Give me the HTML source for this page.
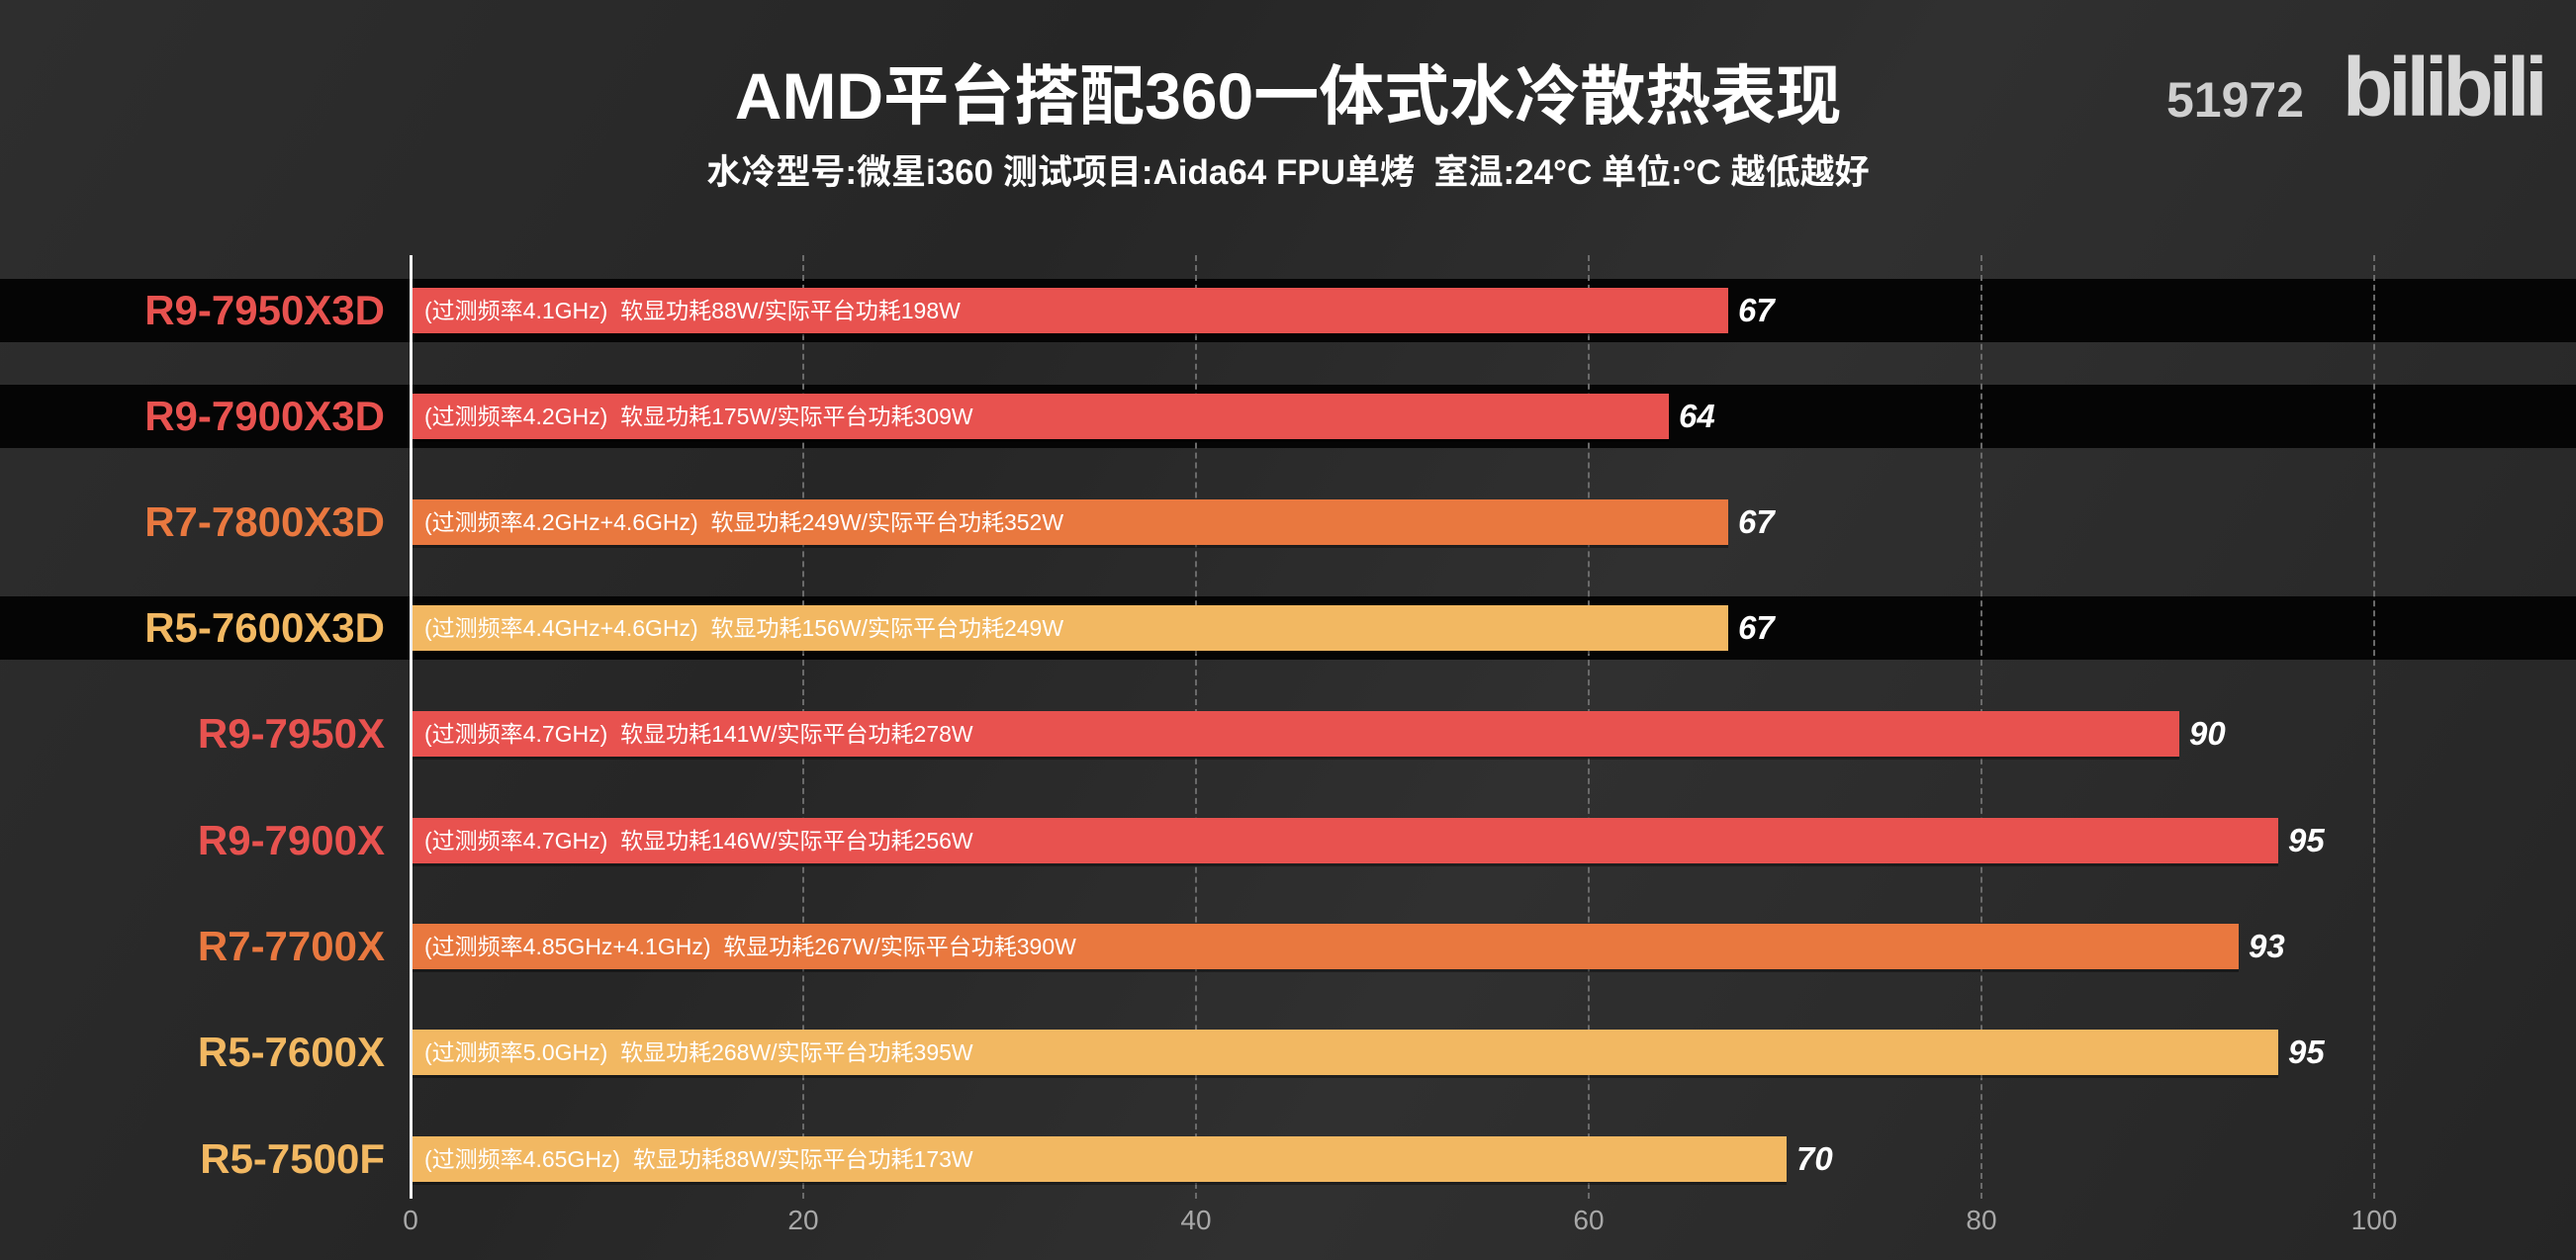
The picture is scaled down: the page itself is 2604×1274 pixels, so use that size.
<!DOCTYPE html>
<html><head><meta charset="utf-8"><style>
body{margin:0;width:2604px;height:1274px;overflow:hidden;background:#2b2b2b;font-family:"Liberation Sans","Noto Sans CJK SC",sans-serif;position:relative}
.bg{position:absolute;inset:0;background:linear-gradient(120deg,#2e2e2e 0%,#262626 35%,#303030 60%,#252525 100%)}
.band{position:absolute;left:0;width:2604px;height:64px;background:#050505}
.grid{position:absolute;top:258px;height:954px;border-left:2px dashed #6a6a6a}
.axis{position:absolute;left:414px;top:258px;width:3px;height:954px;background:#f0f0f0}
.lab{position:absolute;right:2215px;font-size:42px;font-weight:bold;height:46px;line-height:46px;white-space:nowrap}
.bar{position:absolute;left:417px;height:46px;line-height:46px;color:#fff;font-size:23px;padding-left:12px;box-sizing:border-box;white-space:nowrap;box-shadow:0 3px 0 rgba(0,0,0,.35)}
.val{position:absolute;color:#fff;font-size:33px;font-style:italic;font-weight:bold;height:46px;line-height:46px}
.tick{position:absolute;top:1218px;color:#a8a8a8;font-size:28px;width:80px;margin-left:-40px;text-align:center}
.r{color:#e8524f}.o{color:#e9783f}.y{color:#f2b862}
.br{background:#e8524f}.bo{background:#e9783f}.by{background:#f2b862}
</style></head><body>
<div class="bg"></div>
<div style="position:absolute;left:0;width:2604px;top:44px;text-align:center;color:#fff;font-size:66px;font-weight:bold">AMD平台搭配360一体式水冷散热表现</div>
<div style="position:absolute;left:0;width:2604px;top:146px;text-align:center;color:#fff;font-size:35px;font-weight:bold">水冷型号:微星i360 测试项目:Aida64 FPU单烤&nbsp; 室温:24°C 单位:°C 越低越好</div>
<div style="position:absolute;left:2190px;top:72px;color:#cfcfcf;font-size:50px;font-weight:bold">51972</div>
<div style="position:absolute;left:2368px;top:40px;color:#d8d8d8;font-size:84px;font-weight:bold;letter-spacing:-5px">bilibili</div>

<div class="band" style="top:282px"></div>
<div class="band" style="top:389px"></div>
<div class="band" style="top:603px"></div>

<div class="grid" style="left:811px"></div>
<div class="grid" style="left:1208px"></div>
<div class="grid" style="left:1605px"></div>
<div class="grid" style="left:2002px"></div>
<div class="grid" style="left:2399px"></div>
<div class="axis"></div>

<div class="lab r" style="top:291px">R9-7950X3D</div>
<div class="bar br" style="top:291px;width:1330px">(过测频率4.1GHz)&nbsp; 软显功耗88W/实际平台功耗198W</div>
<div class="val" style="top:291px;left:1757px">67</div>

<div class="lab r" style="top:398px">R9-7900X3D</div>
<div class="bar br" style="top:398px;width:1270px">(过测频率4.2GHz)&nbsp; 软显功耗175W/实际平台功耗309W</div>
<div class="val" style="top:398px;left:1697px">64</div>

<div class="lab o" style="top:505px">R7-7800X3D</div>
<div class="bar bo" style="top:505px;width:1330px">(过测频率4.2GHz+4.6GHz)&nbsp; 软显功耗249W/实际平台功耗352W</div>
<div class="val" style="top:505px;left:1757px">67</div>

<div class="lab y" style="top:612px">R5-7600X3D</div>
<div class="bar by" style="top:612px;width:1330px">(过测频率4.4GHz+4.6GHz)&nbsp; 软显功耗156W/实际平台功耗249W</div>
<div class="val" style="top:612px;left:1757px">67</div>

<div class="lab r" style="top:719px">R9-7950X</div>
<div class="bar br" style="top:719px;width:1786px">(过测频率4.7GHz)&nbsp; 软显功耗141W/实际平台功耗278W</div>
<div class="val" style="top:719px;left:2213px">90</div>

<div class="lab r" style="top:827px">R9-7900X</div>
<div class="bar br" style="top:827px;width:1886px">(过测频率4.7GHz)&nbsp; 软显功耗146W/实际平台功耗256W</div>
<div class="val" style="top:827px;left:2313px">95</div>

<div class="lab o" style="top:934px">R7-7700X</div>
<div class="bar bo" style="top:934px;width:1846px">(过测频率4.85GHz+4.1GHz)&nbsp; 软显功耗267W/实际平台功耗390W</div>
<div class="val" style="top:934px;left:2273px">93</div>

<div class="lab y" style="top:1041px">R5-7600X</div>
<div class="bar by" style="top:1041px;width:1886px">(过测频率5.0GHz)&nbsp; 软显功耗268W/实际平台功耗395W</div>
<div class="val" style="top:1041px;left:2313px">95</div>

<div class="lab y" style="top:1149px">R5-7500F</div>
<div class="bar by" style="top:1149px;width:1389px">(过测频率4.65GHz)&nbsp; 软显功耗88W/实际平台功耗173W</div>
<div class="val" style="top:1149px;left:1816px">70</div>

<div class="tick" style="left:415px">0</div>
<div class="tick" style="left:812px">20</div>
<div class="tick" style="left:1209px">40</div>
<div class="tick" style="left:1606px">60</div>
<div class="tick" style="left:2003px">80</div>
<div class="tick" style="left:2400px">100</div>
</body></html>
